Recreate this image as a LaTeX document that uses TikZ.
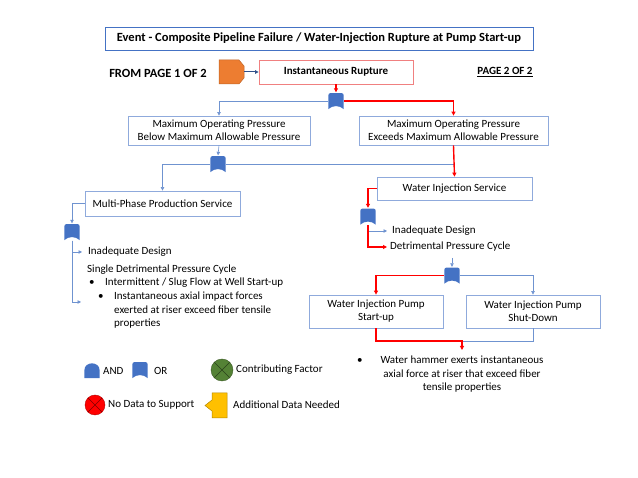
\documentclass[tikz,border=0pt]{standalone}
\usepackage{fontspec}
\setmainfont{Carlito}
\usetikzlibrary{arrows.meta}
\definecolor{gblue}{HTML}{4472C4}
\definecolor{bblue}{HTML}{8FAADC}
\definecolor{lblue}{HTML}{6F93D0}
\definecolor{orng}{HTML}{ED7D31}
\definecolor{gflag}{HTML}{548235}
\definecolor{ylw}{HTML}{FFC000}
\definecolor{rbox}{HTML}{F08080}
\tikzset{
  x=1pt,y=-1pt,
  box/.style={draw=bblue,line width=0.8pt,fill=white,align=center,font=\fontsize{11}{13}\selectfont,inner sep=0pt},
  orgate/.style={minimum width=16pt,minimum height=17pt,inner sep=0pt,
    path picture={
      \fill[gblue] ([shift={(0.4pt,0.4pt)}]path picture bounding box.south west) -- ++(0,13.5pt) [rounded corners=2pt] -- ++(0,2.5pt) -- ++(15.2pt,0) [sharp corners] -- ++(0,-16pt)
        .. controls ++(-4pt,4pt) and ++(4pt,4pt) .. cycle;}},
  andgate/.style={minimum width=16pt,minimum height=17pt,inner sep=0pt,
    path picture={\fill[gblue] ([shift={(0.4pt,0.4pt)}]path picture bounding box.south west) -- ++(0,8pt)
        .. controls ++(0,9pt) and ++(0,9pt) .. ++(15.2pt,0) -- ++(0,-8pt) -- cycle;}},
  bl/.style={draw=lblue,line width=0.6pt},
  rl/.style={draw=red,line width=1.4pt},
  barr/.style={bl,-{Triangle[length=3.5pt,width=3.5pt]}},
  rarr/.style={rl,-{Triangle[length=4pt,width=4pt]}},
  txt/.style={anchor=west,font=\fontsize{11}{13.5}\selectfont,inner sep=0pt,align=left},
}
\begin{document}
\begin{tikzpicture}
\useasboundingbox (0,0) rectangle (638,478);
% title
\node[draw=gblue,line width=0.8pt,minimum width=428pt,minimum height=23pt,inner sep=0pt,font=\fontsize{12.5}{14}\selectfont\bfseries] (title) at (319,38.5) {Event - Composite Pipeline Failure / Water-Injection Rupture at Pump Start-up};
\node[font=\fontsize{12.5}{14}\selectfont\bfseries] (from) at (158,73) {FROM PAGE 1 OF 2};
\node[font=\fontsize{11}{13}\selectfont\bfseries] (page) at (505,72) {\underline{PAGE 2 OF 2}};
\node[minimum width=25pt,minimum height=24pt,inner sep=0pt] (opc) at (231.5,72) {};
\fill[orng,draw=orng!80!black,line width=0.5pt] (219,60) -- (239,60) -- (244,66) -- (244,78) -- (239,84) -- (219,84) -- cycle;
\node[box,draw=rbox,minimum width=154pt,minimum height=24pt,font=\fontsize{11}{13}\selectfont\bfseries] (rupt) at (336,72) {Instantaneous Rupture};
\draw[bl,draw=gblue!70!black,line width=1pt,-{Triangle[length=3.5pt,width=3.5pt]}] (opc.east) -- (rupt.west);

\node[orgate] (g1) at (336,101) {};
\node[box,minimum width=182pt,minimum height=29pt] (mopb) at (219,130.5) {Maximum Operating Pressure\\Below Maximum Allowable Pressure};
\node[box,minimum width=189pt,minimum height=29pt] (mope) at (453.5,130.5) {Maximum Operating Pressure\\Exceeds Maximum Allowable Pressure};
\node[orgate] (g2) at (218,164) {};
\node[box,minimum width=155pt,minimum height=25pt] (mp) at (162.5,203.5) {Multi-Phase Production Service};
\node[box,minimum width=155pt,minimum height=23pt] (wis) at (454.5,188.5) {Water Injection Service};
\node[orgate] (g3) at (72,232) {};
\node[orgate] (g4) at (368,216.5) {};
\node[orgate] (g5) at (452,275.5) {};
\node[box,minimum width=134pt,minimum height=33pt] (pst) at (376,311.5) {Water Injection Pump\\Start-up};
\node[box,minimum width=134pt,minimum height=33pt] (psd) at (533,311.5) {Water Injection Pump\\Shut-Down};

% texts
\node[txt] (inad1) at (88,252) {Inadequate Design};
\node[txt] (sdpc) at (87,270) {Single Detrimental Pressure Cycle};
\node[txt] (b1) at (87,283) {\makebox[18pt][l]{\hspace{2pt}•}Intermittent / Slug Flow at Well Start-up};
\node[txt,anchor=north west] (b2) at (96,290) {\makebox[18pt][l]{\hspace{2pt}•}\begin{tabular}[t]{@{}l@{}}Instantaneous axial impact forces\\exerted at riser exceed fiber tensile\\properties\end{tabular}};
\coordinate (c1) at (81,302);
\node[txt] (inad2) at (392,231) {Inadequate Design};
\node[txt] (dpc) at (390,247) {Detrimental Pressure Cycle};
\coordinate (g5in) at (452,258);
\coordinate (j) at (462,341);
\coordinate (whtop) at (462,350);
\node[anchor=north,font=\fontsize{11}{13.5}\selectfont,inner sep=0pt,align=center] (wh) at (462,356) {\makebox[0pt][r]{•\hspace{18pt}}Water hammer exerts instantaneous\\axial force at riser that exceed fiber\\tensile properties};

% connectors
\draw[rarr] (rupt.south) -- (g1.north);
\draw[barr] (g1.west) -| (mopb.north);
\draw[rarr] (g1.east) -| (mope.north);
\draw[barr] (mopb.south) -- (g2.north);
\draw[barr] (g2.west) -| (mp.north);
\draw[bl] (g2.east) -- (g2.east -| mope.south);
\draw[rarr] (mope.south) -- (wis.north);
\draw[barr] (mp.west) -| (g3.north);
\draw[barr] (g3.south) |- ([xshift=-6pt]inad1.west);
\draw[barr] (g3.south) |- (c1);
\draw[rarr] (wis.west) -| (g4.north);
\draw[barr] (g4.south) |- ([xshift=-5pt]inad2.west);
\draw[rarr] (g4.south) |- ([xshift=-3pt]dpc.west);
\draw[barr] (g5in) -- (g5.north);
\draw[rarr] (g5.west) -| (pst.north);
\draw[barr] (g5.east) -| (psd.north);
\draw[bl] (psd.south) |- (j);
\draw[rarr] (pst.south) |- (j) -- (whtop);

% legend
\node[andgate] (land) at (92,370) {};
\node[txt] (tand) at (103,371) {AND};
\node[orgate] (lor) at (140,370) {};
\node[txt] (tor) at (154,371) {OR};
\node[circle,fill=gflag,draw=gflag!70!black,minimum size=22pt,inner sep=0pt,
  path picture={\draw[gflag!50!black,line width=0.5pt] (path picture bounding box.north west)--(path picture bounding box.south east) (path picture bounding box.north east)--(path picture bounding box.south west);}] (lcf) at (222,370) {};
\node[txt] (tcf) at (236,370) {Contributing Factor};
\node[circle,fill=red,draw=red!70!black,minimum size=20pt,inner sep=0pt,
  path picture={\draw[red!50!black,line width=0.5pt] (path picture bounding box.north west)--(path picture bounding box.south east) (path picture bounding box.north east)--(path picture bounding box.south west);}] (lnd) at (95,405) {};
\node[txt] (tnd) at (108,405) {No Data to Support};
\node[minimum width=23pt,minimum height=25pt,inner sep=0pt] (lad) at (216.5,405.5) {};
\fill[ylw,draw=ylw!70!black,line width=0.5pt] (212,393) -- (227,393) -- (227,418) -- (212,418) -- (212,411) -- (205,405.5) -- (212,400) -- cycle;
\node[txt] (tad) at (233,405) {Additional Data Needed};
\end{tikzpicture}
\end{document}
